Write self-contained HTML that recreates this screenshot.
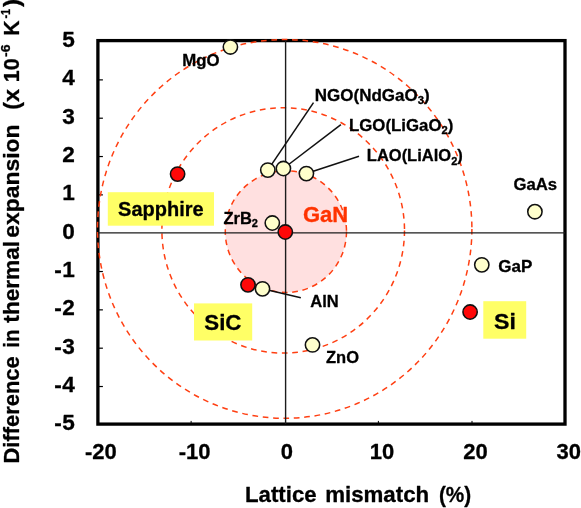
<!DOCTYPE html>
<html><head><meta charset="utf-8"><title>Lattice mismatch chart</title>
<style>html,body{margin:0;padding:0;background:#fff}body{width:581px;height:508px;overflow:hidden}.t{font-family:"Liberation Sans",Arial,Helvetica,sans-serif;font-weight:bold;stroke-width:.3px;stroke-linejoin:round}</style></head>
<body>
<svg width="581" height="508" viewBox="0 0 581 508" style="display:block">
<rect width="581" height="508" fill="#fff"/>
<ellipse cx="285.9" cy="231.6" rx="60.6" ry="60.9" fill="#ffe0e0"/>
<rect x="97.9" y="40.6" width="467.1" height="383.5" fill="none" stroke="#000" stroke-width="3.3"/>
<line x1="97.9" y1="386.52" x2="102.9" y2="386.52" stroke="#000" stroke-width="1.2"/>
<line x1="97.9" y1="348.19" x2="102.9" y2="348.19" stroke="#000" stroke-width="1.2"/>
<line x1="97.9" y1="309.86" x2="102.9" y2="309.86" stroke="#000" stroke-width="1.2"/>
<line x1="97.9" y1="271.53" x2="102.9" y2="271.53" stroke="#000" stroke-width="1.2"/>
<line x1="97.9" y1="194.87" x2="102.9" y2="194.87" stroke="#000" stroke-width="1.2"/>
<line x1="97.9" y1="156.54" x2="102.9" y2="156.54" stroke="#000" stroke-width="1.2"/>
<line x1="97.9" y1="118.21" x2="102.9" y2="118.21" stroke="#000" stroke-width="1.2"/>
<line x1="97.9" y1="79.88" x2="102.9" y2="79.88" stroke="#000" stroke-width="1.2"/>
<line x1="191.12" y1="424.1" x2="191.12" y2="420.9" stroke="#000" stroke-width="1"/>
<line x1="378.38" y1="424.1" x2="378.38" y2="420.9" stroke="#000" stroke-width="1"/>
<line x1="472.01" y1="424.1" x2="472.01" y2="420.9" stroke="#000" stroke-width="1"/>
<ellipse cx="285.9" cy="231.6" rx="60.6" ry="60.9" fill="none" stroke="#ff3f12" stroke-width="1.5" stroke-dasharray="5.7 4.7"/>
<ellipse cx="283.2" cy="230.4" rx="121.3" ry="122.7" fill="none" stroke="#ff3f12" stroke-width="1.5" stroke-dasharray="5.7 4.7"/>
<ellipse cx="284.7" cy="228.9" rx="187.2" ry="189.4" fill="none" stroke="#ff3f12" stroke-width="1.5" stroke-dasharray="5.7 4.7"/>
<line x1="97.9" y1="232.9" x2="565.0" y2="232.9" stroke="#1c1c1c" stroke-width="1.4"/>
<line x1="285.6" y1="40.6" x2="285.6" y2="424.1" stroke="#1c1c1c" stroke-width="1.4"/>
<line x1="267.8" y1="170.1" x2="313.5" y2="102.6" stroke="#111" stroke-width="1.55"/>
<line x1="283.4" y1="168.5" x2="340.9" y2="124.6" stroke="#111" stroke-width="1.55"/>
<line x1="306.4" y1="173.6" x2="359.0" y2="156.2" stroke="#111" stroke-width="1.55"/>
<line x1="262.5" y1="288.8" x2="300.8" y2="297.7" stroke="#111" stroke-width="1.55"/>
<circle cx="230.4" cy="47" r="7.15" fill="#ffffcc" stroke="#111" stroke-width="1.55"/>
<circle cx="177.6" cy="174.1" r="7.15" fill="#ff0808" stroke="#111" stroke-width="1.55"/>
<circle cx="267.8" cy="170.1" r="7.15" fill="#ffffcc" stroke="#111" stroke-width="1.55"/>
<circle cx="283.4" cy="168.5" r="7.15" fill="#ffffcc" stroke="#111" stroke-width="1.55"/>
<circle cx="306.4" cy="173.6" r="7.15" fill="#ffffcc" stroke="#111" stroke-width="1.55"/>
<circle cx="272.3" cy="223.0" r="7.15" fill="#ffffcc" stroke="#111" stroke-width="1.55"/>
<circle cx="285.3" cy="232" r="7.15" fill="#ff0808" stroke="#111" stroke-width="1.55"/>
<circle cx="248" cy="284.8" r="7.15" fill="#ff0808" stroke="#111" stroke-width="1.55"/>
<circle cx="262.5" cy="288.8" r="7.15" fill="#ffffcc" stroke="#111" stroke-width="1.55"/>
<circle cx="312.5" cy="344.9" r="7.15" fill="#ffffcc" stroke="#111" stroke-width="1.55"/>
<circle cx="534.9" cy="211.7" r="7.15" fill="#ffffcc" stroke="#111" stroke-width="1.55"/>
<circle cx="481.8" cy="264.8" r="7.15" fill="#ffffcc" stroke="#111" stroke-width="1.55"/>
<circle cx="470.1" cy="312" r="7.15" fill="#ff0808" stroke="#111" stroke-width="1.55"/>
<rect x="107.8" y="192.2" width="106.20" height="33.50" fill="#ffff66"/>
<rect x="194" y="303.4" width="58.20" height="37.10" fill="#ffff66"/>
<rect x="483.3" y="301.2" width="42.90" height="37.50" fill="#ffff66"/>
<text transform="translate(118.1,216) scale(0.985,1)" class="t" font-size="20.3" fill="#000" stroke="#000" text-anchor="start">Sapphire</text>
<text transform="translate(204.3,330.1) scale(0.99,1)" class="t" font-size="22.5" fill="#000" stroke="#000" text-anchor="start">SiC</text>
<text transform="translate(494.1,328.5) scale(1.03,1)" class="t" font-size="22.5" fill="#000" stroke="#000" text-anchor="start">Si</text>
<text transform="translate(303,222.3) scale(1,1)" class="t" font-size="22" fill="#ff3300" stroke="#ff3300" text-anchor="start">GaN</text>
<text transform="translate(223.4,223.5) scale(1,1)" class="t" font-size="16.5" fill="#000" stroke="#000" text-anchor="start">ZrB<tspan font-size="11" dy="3.6">2</tspan></text>
<text transform="translate(182.2,65.9) scale(1.02,1)" class="t" font-size="16.5" fill="#000" stroke="#000" text-anchor="start">MgO</text>
<text transform="translate(314.8,100.7) scale(1.03,1)" class="t" font-size="16.5" fill="#000" stroke="#000" text-anchor="start">NGO(NdGaO<tspan font-size="11" dy="3.6">3</tspan><tspan font-size="16.5" dy="-3.6">)</tspan></text>
<text transform="translate(349.0,130.7) scale(1.02,1)" class="t" font-size="16.5" fill="#000" stroke="#000" text-anchor="start">LGO(LiGaO<tspan font-size="11" dy="3.6">2</tspan><tspan font-size="16.5" dy="-3.6">)</tspan></text>
<text transform="translate(366.8,161.0) scale(1,1)" class="t" font-size="16.5" fill="#000" stroke="#000" text-anchor="start">LAO(LiAlO<tspan font-size="11" dy="3.6">2</tspan><tspan font-size="16.5" dy="-3.6">)</tspan></text>
<text transform="translate(310.3,307.3) scale(1,1)" class="t" font-size="16.5" fill="#000" stroke="#000" text-anchor="start">AlN</text>
<text transform="translate(326.0,362.9) scale(1,1)" class="t" font-size="16.5" fill="#000" stroke="#000" text-anchor="start">ZnO</text>
<text transform="translate(513.4,189.8) scale(1.0,1)" class="t" font-size="16.7" fill="#000" stroke="#000" text-anchor="start">GaAs</text>
<text transform="translate(498.2,271.5) scale(1.02,1)" class="t" font-size="16.7" fill="#000" stroke="#000" text-anchor="start">GaP</text>
<text transform="translate(74.9,430.34999999999997) scale(1,1)" class="t" font-size="22.6" fill="#000" stroke="#000" text-anchor="end">-<tspan dx="0.5">5</tspan></text>
<text transform="translate(74.9,392.02) scale(1,1)" class="t" font-size="22.6" fill="#000" stroke="#000" text-anchor="end">-<tspan dx="0.5">4</tspan></text>
<text transform="translate(74.9,353.69) scale(1,1)" class="t" font-size="22.6" fill="#000" stroke="#000" text-anchor="end">-<tspan dx="0.5">3</tspan></text>
<text transform="translate(74.9,315.36) scale(1,1)" class="t" font-size="22.6" fill="#000" stroke="#000" text-anchor="end">-<tspan dx="0.5">2</tspan></text>
<text transform="translate(74.9,277.03) scale(1,1)" class="t" font-size="22.6" fill="#000" stroke="#000" text-anchor="end">-<tspan dx="0.5">1</tspan></text>
<text transform="translate(74.9,238.70000000000002) scale(1,1)" class="t" font-size="22.6" fill="#000" stroke="#000" text-anchor="end">0</text>
<text transform="translate(74.9,200.37000000000003) scale(1,1)" class="t" font-size="22.6" fill="#000" stroke="#000" text-anchor="end">1</text>
<text transform="translate(74.9,162.04000000000002) scale(1,1)" class="t" font-size="22.6" fill="#000" stroke="#000" text-anchor="end">2</text>
<text transform="translate(74.9,123.71000000000002) scale(1,1)" class="t" font-size="22.6" fill="#000" stroke="#000" text-anchor="end">3</text>
<text transform="translate(74.9,85.38000000000002) scale(1,1)" class="t" font-size="22.6" fill="#000" stroke="#000" text-anchor="end">4</text>
<text transform="translate(74.9,47.05000000000003) scale(1,1)" class="t" font-size="22.6" fill="#000" stroke="#000" text-anchor="end">5</text>
<text transform="translate(100.89000000000001,459.2) scale(1,1)" class="t" font-size="22" fill="#000" stroke="#000" text-anchor="middle">-20</text>
<text transform="translate(194.52,459.2) scale(1,1)" class="t" font-size="22" fill="#000" stroke="#000" text-anchor="middle">-10</text>
<text transform="translate(286.84999999999997,459.2) scale(1,1)" class="t" font-size="22" fill="#000" stroke="#000" text-anchor="middle">0</text>
<text transform="translate(382.08,459.2) scale(1,1)" class="t" font-size="22" fill="#000" stroke="#000" text-anchor="middle">10</text>
<text transform="translate(475.40999999999997,459.2) scale(1,1)" class="t" font-size="22" fill="#000" stroke="#000" text-anchor="middle">20</text>
<text transform="translate(568.8399999999999,459.2) scale(1,1)" class="t" font-size="22" fill="#000" stroke="#000" text-anchor="middle">30</text>
<text transform="translate(245.03,502.3) scale(1.0106,1)" class="t" font-size="22" fill="#000" stroke="#000">Lattice</text>
<text transform="translate(325.18,502.3) scale(1.0133,1)" class="t" font-size="22" fill="#000" stroke="#000">mismatch</text>
<text transform="translate(438.94,502.3) scale(0.9438,1)" class="t" font-size="22" fill="#000" stroke="#000">(%)</text>
<text transform="translate(19.0,463.49) rotate(-90) scale(0.9964,1)" class="t" font-size="22" fill="#000" stroke="#000">Difference</text>
<text transform="translate(19.0,347.80) rotate(-90) scale(0.9313,1)" class="t" font-size="22" fill="#000" stroke="#000">in</text>
<text transform="translate(19.0,322.66) rotate(-90) scale(1.0293,1)" class="t" font-size="22" fill="#000" stroke="#000">thermal</text>
<text transform="translate(19.0,237.71) rotate(-90) scale(1.0410,1)" class="t" font-size="22" fill="#000" stroke="#000">expansion</text>
<text transform="translate(19.0,109.79) rotate(-90) scale(1.0575,1)" class="t" font-size="22" fill="#000" stroke="#000">(x</text>
<text transform="translate(19.0,82.25) rotate(-90) scale(0.9798,1)" class="t" font-size="22" fill="#000" stroke="#000">10</text>
<text transform="translate(10.4,56.94) rotate(-90) scale(1.0824,1)" class="t" font-size="13" fill="#000" stroke="#000">-6</text>
<text transform="translate(19.0,35.84) rotate(-90) scale(0.9628,1)" class="t" font-size="22" fill="#000" stroke="#000">K</text>
<text transform="translate(10.4,18.52) rotate(-90) scale(0.8372,1)" class="t" font-size="13" fill="#000" stroke="#000">-1</text>
<text transform="translate(19.0,6.94) rotate(-90) scale(1.1102,1)" class="t" font-size="22" fill="#000" stroke="#000">)</text>
</svg>
</body></html>
